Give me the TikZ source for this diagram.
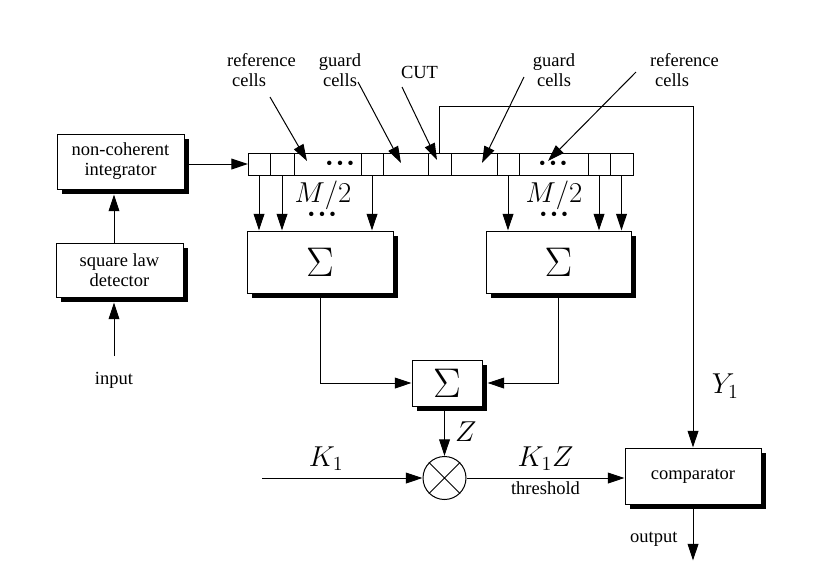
\documentclass[tikz,border=0pt]{standalone}
\usepackage{fontspec}
\setmainfont{Liberation Serif}
\usetikzlibrary{arrows.meta,positioning}
\newcommand{\celldots}{\textbullet\hspace{2.5pt}\textbullet\hspace{2.5pt}\textbullet}

\begin{document}
\begin{tikzpicture}[x=0.6pt,y=-0.6pt,
  box/.style={draw,fill=white,line width=0.6pt,inner sep=2pt,align=center,
    font=\fontsize{11.1}{12}\selectfont,
    preaction={draw=none,fill=black,transform canvas={xshift=3pt,yshift=-3pt}}},
  cell/.style={draw,line width=0.6pt,minimum height=13.2pt,inner sep=0pt,outer sep=0pt},
  lbl/.style={font=\fontsize{11.1}{12}\selectfont,inner sep=1pt},
  sym/.style={font=\fontsize{16.5}{18}\selectfont,inner sep=1pt},
  big/.style={font=\fontsize{24}{26}\selectfont},
  flow/.style={-{Triangle[length=10pt,width=6.5pt]},line width=0.6pt},
  wire/.style={line width=0.6pt}]
\fill[white] (0,0) rectangle (820,565);

% front end
\node[box,minimum width=76.2pt,minimum height=33pt] (integ) at (120.5,161.5) {non-coherent\\integrator};
\node[box,minimum width=76.2pt,minimum height=32.4pt] (det) at (119.5,270) {square law\\detector};
\node[lbl] (input) at (114,380) {input};
\coordinate (inpt) at (114,356);
\draw[flow,shorten >=3pt] (inpt) -- (inpt |- det.south);
\draw[flow,shorten >=3pt] (det.north -| input) -- (integ.south -| input);

% delay line
\foreach \l/\r [count=\i] in {248/270,270/294,294/361,361/383,383/428,428/451,
    451/497,497/519,519/588,588/610,610/633}
  \node[cell,minimum width={(\r-\l)*0.6pt}] (cell\i) at ({(\l+\r)/2},164) {};
\node[lbl] (dotsA) at (340,165) {\celldots};
\node[lbl] (dotsB) at (553,165) {\celldots};
\draw[flow] (integ.east |- cell1.west) -- (cell1.west);

% labels over the line
\node[lbl,align=left] (refL) at (261.5,70) {reference\\\hspace{3pt}cells};
\node[lbl,align=center] (guardL) at (340,70) {guard\\cells};
\node[lbl] (cut) at (419.5,72) {CUT};
\node[lbl,align=center] (guardR) at (554,70) {guard\\cells};
\node[lbl,align=left] (refR) at (684.5,70) {reference\\\hspace{3pt}cells};
\coordinate (refLa) at (270,97);  \coordinate (refLb) at (307,161);
\coordinate (guardLa) at (358,82); \coordinate (guardLb) at (401,163);
\coordinate (cuta) at (402,87);   \coordinate (cutb) at (437,160);
\coordinate (guardRa) at (524,77); \coordinate (guardRb) at (482,163);
\coordinate (refRa) at (636,72);  \coordinate (refRb) at (548,161);
\draw[flow] (refLa) -- (refLb);
\draw[flow] (guardLa) -- (guardLb);
\draw[flow] (cuta) -- (cutb);
\draw[flow] (guardRa) -- (guardRb);
\draw[flow] (refRa) -- (refRb);

% summers
\node[box,big,minimum width=87.6pt,minimum height=37.2pt] (sumL) at (320,262) {$\Sigma$};
\node[box,big,minimum width=87pt,minimum height=37.2pt] (sumR) at (558.5,262) {$\Sigma$};
\node[sym,inner sep=0pt] (mL) at (323,195) {$M/2$};
\node[sym,inner sep=0pt] (mR) at (554,195) {$M/2$};
\node[lbl,inner sep=0pt] (dotsC) at (322,216) {\celldots};
\node[lbl,inner sep=0pt] (dotsD) at (554,216) {\celldots};
\foreach \i in {1,2,4}
  \draw[flow] (cell\i.south) -- (cell\i.south |- sumL.north);
\foreach \i in {8,10,11}
  \draw[flow] (cell\i.south) -- (cell\i.south |- sumR.north);

\node[box,big,minimum width=42pt,minimum height=27.6pt] (sum) at (447,383) {$\Sigma$};
\draw[flow] (sumL.south) |- (sum.west);
\draw[flow,shorten >=3pt] (sumR.south) |- (sum.east);

% threshold and decision
\node[draw,circle,line width=0.6pt,minimum size=25.8pt,inner sep=0pt] (mult) at (444.5,478) {};
\draw[wire] (mult.45) -- (mult.225) (mult.135) -- (mult.-45);
\draw[flow] (mult.north |- sum.south) -- node[sym,right=5pt] {$Z$} (mult.north);
\coordinate (kin) at (262,478);
\draw[flow] (kin) -- node[sym,above=3pt,pos=0.4] {$K_1$} (mult.west);

\node[box,minimum width=81.6pt,minimum height=33.6pt] (comp) at (693,476) {comparator};
\draw[flow] (mult.east) -- node[sym,above=3pt] {$K_1Z$} node[lbl,below=1pt] {threshold} (mult.east -| comp.west);
\coordinate (ybend) at (0,106);
\draw[flow] (cell6.north) |- (comp.north |- ybend)
  -- node[sym,right=10pt,pos=0.82] {$Y_1$} (comp.north);
\draw[flow] (comp.south) -- node[lbl,left=8pt,pos=0.62] {output} ++(0,56);
\end{tikzpicture}
\end{document}
